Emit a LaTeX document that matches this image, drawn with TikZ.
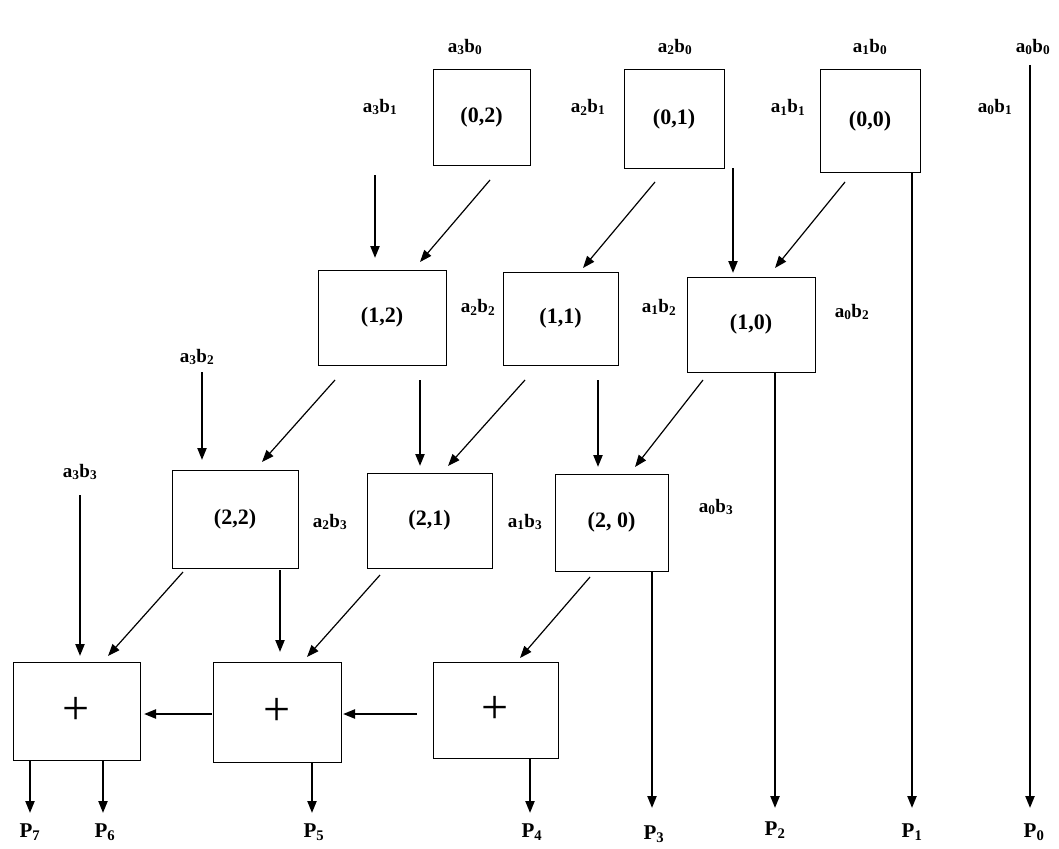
\documentclass[tikz,border=0pt]{standalone}
\usepackage{fontspec}
\setmainfont{Liberation Serif}
\usetikzlibrary{arrows.meta}
\begin{document}
\begin{tikzpicture}[x=1pt,y=-1pt,
  box/.style={draw,line width=1pt,inner sep=0pt,font=\bfseries\fontsize{22}{22}\selectfont},
  lab/.style={font=\bfseries\fontsize{19}{19}\selectfont,inner sep=0pt},
  plab/.style={font=\bfseries\fontsize{21}{21}\selectfont,inner sep=0pt},
  va/.style={line width=2.2pt,-{Triangle[length=12pt,width=9pt]}},
  da/.style={line width=1.2pt,-{Triangle[length=12pt,width=9pt]}}]
\useasboundingbox (0,0) rectangle (1059,848);
\newcommand\bx[6]{\node[box,minimum width=#4-#2,minimum height=#5-#3] (#1) at ({(#2+#4)/2},{(#3+#5)/2}) {#6};}
\bx{b02}{433}{70}{530}{165}{(0,2)}
\bx{b01}{624}{70}{724}{168}{(0,1)}
\bx{b00}{820}{70}{920}{172}{(0,0)}
\bx{b12}{318}{270}{446}{365}{(1,2)}
\bx{b11}{503}{272}{618}{365}{(1,1)}
\bx{b10}{687}{277}{815}{372}{(1,0)}
\bx{b22}{172}{470}{298}{568}{(2,2)}
\bx{b21}{367}{473}{492}{568}{(2,1)}
\bx{b20}{555}{474}{668}{571}{(2, 0)}
\node[box,minimum width=127,minimum height=98,font=\fontsize{48}{48}\selectfont] (p1) at (76.5,711) {+};
\node[box,minimum width=128,minimum height=100,font=\fontsize{48}{48}\selectfont] (p2) at (277,712) {+};
\node[box,minimum width=125,minimum height=96,font=\fontsize{48}{48}\selectfont] (p3) at (495.5,710) {+};
% labels
\node[lab] (l30) at (465,47) {a$_\mathbf{3}$b$_\mathbf{0}$};
\node[lab] (l20) at (675,47) {a$_\mathbf{2}$b$_\mathbf{0}$};
\node[lab] (l10) at (870,47) {a$_\mathbf{1}$b$_\mathbf{0}$};
\node[lab] (l00) at (1033,47) {a$_\mathbf{0}$b$_\mathbf{0}$};
\node[lab] (l31) at (380,107) {a$_\mathbf{3}$b$_\mathbf{1}$};
\node[lab] (l21) at (588,107) {a$_\mathbf{2}$b$_\mathbf{1}$};
\node[lab] (l11) at (788,107) {a$_\mathbf{1}$b$_\mathbf{1}$};
\node[lab] (l01) at (995,107) {a$_\mathbf{0}$b$_\mathbf{1}$};
\node[lab] (l22) at (478,307) {a$_\mathbf{2}$b$_\mathbf{2}$};
\node[lab] (l12) at (659,307) {a$_\mathbf{1}$b$_\mathbf{2}$};
\node[lab] (l02) at (852,312) {a$_\mathbf{0}$b$_\mathbf{2}$};
\node[lab] (l32) at (197,357) {a$_\mathbf{3}$b$_\mathbf{2}$};
\node[lab] (l23) at (330,522) {a$_\mathbf{2}$b$_\mathbf{3}$};
\node[lab] (l13) at (525,522) {a$_\mathbf{1}$b$_\mathbf{3}$};
\node[lab] (l03) at (716,507) {a$_\mathbf{0}$b$_\mathbf{3}$};
\node[lab] (l33) at (80,472) {a$_\mathbf{3}$b$_\mathbf{3}$};
\node[plab] (P7) at (30,832) {P$_\mathbf{7}$};
\node[plab] (P6) at (105,832) {P$_\mathbf{6}$};
\node[plab] (P5) at (314,832) {P$_\mathbf{5}$};
\node[plab] (P4) at (532,832) {P$_\mathbf{4}$};
\node[plab] (P3) at (654,834) {P$_\mathbf{3}$};
\node[plab] (P2) at (775,830) {P$_\mathbf{2}$};
\node[plab] (P1) at (912,832) {P$_\mathbf{1}$};
\node[plab] (P0) at (1034,832) {P$_\mathbf{0}$};
% arrows
\draw[va] (375,175) -- (375,258);
\draw[da] (490,180) -- (420,262);
\draw[da] (655,182) -- (583,268);
\draw[va] (733,168) -- (733,273);
\draw[da] (845,182) -- (775,268);
\draw[va] (912,172) -- (912,808);
\draw[va] (1030,65) -- (1030,808);
\draw[da] (335,380) -- (262,462);
\draw[va] (202,372) -- (202,460);
\draw[va] (420,380) -- (420,466);
\draw[da] (525,380) -- (448,466);
\draw[va] (598,380) -- (598,467);
\draw[da] (703,380) -- (635,467);
\draw[va] (775,372) -- (775,808);
\draw[da] (183,572) -- (108,656);
\draw[va] (80,495) -- (80,656);
\draw[va] (280,570) -- (280,652);
\draw[da] (380,575) -- (307,657);
\draw[da] (590,577) -- (520,658);
\draw[va] (652,571) -- (652,808);
\draw[va] (417,714) -- (343,714);
\draw[va] (212,714) -- (144,714);
\draw[va] (30,760) -- (30,813);
\draw[va] (103,760) -- (103,813);
\draw[va] (312,762) -- (312,813);
\draw[va] (530,758) -- (530,813);
\end{tikzpicture}
\end{document}
